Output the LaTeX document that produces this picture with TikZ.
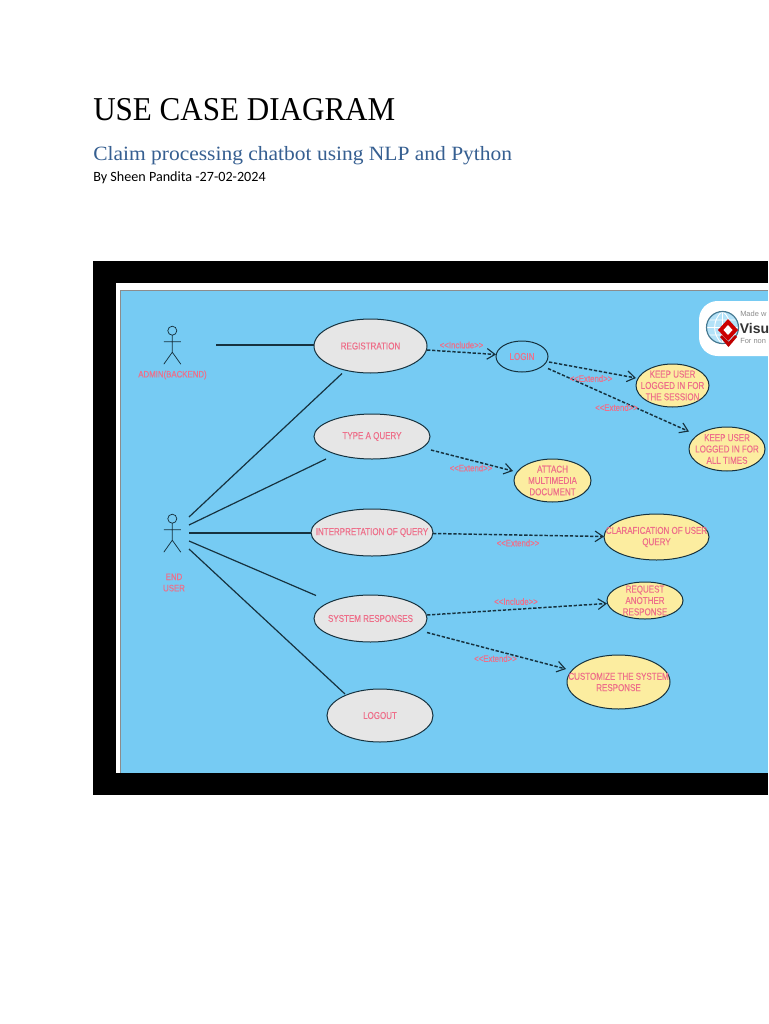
\documentclass[tikz,border=0pt]{standalone}
\usepackage{fontspec}
\setmainfont{Liberation Sans}
\newfontfamily\titlefont[FakeStretch=0.932]{Liberation Serif}
\newfontfamily\subfont[FakeStretch=1.06]{Liberation Serif}
\newfontfamily\bylinefont{Carlito}
\newfontfamily\ucfont[FakeStretch=0.80,FakeBold=0.35]{Liberation Sans}
\newfontfamily\lblfont[FakeStretch=0.84,FakeBold=0.35]{Liberation Sans}
\usetikzlibrary{shapes.geometric,arrows.meta}
\definecolor{skyfill}{HTML}{76CBF3}
\definecolor{grayuse}{HTML}{E6E6E6}
\definecolor{yellowuse}{HTML}{FCEDA0}
\definecolor{pinktext}{HTML}{EE6F8A}
\definecolor{linedark}{HTML}{16323F}
\definecolor{subtitleblue}{HTML}{365F91}
\tikzset{
  uc/.style={ellipse,draw=linedark,line width=0.75pt,inner sep=0pt},
  uctext/.style={text=pinktext,font=\ucfont\fontsize{7.5}{8.5}\selectfont,inner sep=0pt,align=center},
  lbl/.style={text=pinktext,font=\lblfont\fontsize{7}{8.5}\selectfont,inner sep=0pt,align=center},
  assoc/.style={draw=linedark,line width=0.9pt},
  dep/.style={draw=linedark,line width=1.1pt,dash pattern=on 2.5pt off 1.3pt,-{Straight Barb[length=6pt,width=8pt,line width=0.85pt]}},
  actorline/.style={draw=linedark,line width=0.55pt},
}
\newcommand{\useell}[7]{% name, x1,x2,y1,y2, fill, text
  \node[uc,minimum width=#3*0.75pt-#2*0.75pt,minimum height=#5*0.75pt-#4*0.75pt,fill=#6,label={[uctext]center:#7}] (#1) at ({(#2+#3)/2},{(#4+#5)/2}) {};}
\newcommand{\stick}[3]{% name, x, y of head centre
  \coordinate (#1) at (#2,#3);
  \draw[actorline] (#2,#3) circle[radius=4.5];
  \draw[actorline] (#2,#3+4.5) -- (#2,#3+21.5) (#2-8.5,#3+11) -- (#2+8.5,#3+11)
    (#2-8.5,#3+33.5) -- (#2,#3+21.5) -- (#2+8.5,#3+33.5);}
\begin{document}
\begin{tikzpicture}[x=0.75pt,y=-0.75pt]
\useasboundingbox (0,0) rectangle (768,1024);
\fill[white] (0,0) rectangle (768,1024);
\node[anchor=base west,inner sep=0pt,font=\titlefont\fontsize{25}{30}\selectfont] (title) at (93,120) {USE CASE DIAGRAM};
\node[anchor=base west,inner sep=0pt,text=subtitleblue,font=\subfont\fontsize{15.2}{18}\selectfont] (subtitle) at (93,160) {Claim processing chatbot using NLP and Python};
\node[anchor=base west,inner sep=0pt,font=\bylinefont\fontsize{10.6}{12}\selectfont] (byline) at (93,181) {By Sheen Pandita -27-02-2024};
% frame
\fill[black] (93,261) rectangle (768,795);
\fill[white] (116,283) rectangle (768,773);
\fill[black!45] (120,289.5) rectangle (768,773);
\fill[skyfill] (121,291) rectangle (768,773);
% logo
\begin{scope}
\clip (690,290) rectangle (768,365);
\fill[white,rounded corners=14] (699,301) rectangle (800,356);
\fill[white!45!skyfill] (722.5,327.5) circle[radius=16];
\begin{scope}
\clip (722.5,327.5) circle[radius=16];
\draw[white,line width=0.7pt] (706,320) -- (739,320) (706,327.5) -- (739,327.5) (706,335) -- (739,335)
  (722.5,311) -- (722.5,344)
  (722.5,311) .. controls (712,320) and (712,335) .. (722.5,344)
  (722.5,311) .. controls (733,320) and (733,335) .. (722.5,344);
\end{scope}
\draw[black!40!skyfill,line width=0.9pt] (722.5,327.5) circle[radius=16];
\fill[red!75!black] (720,337) -- (728.5,347) -- (737,337) -- (735,335) -- (728.5,342) -- (722,335) -- cycle;
\fill[red!80!black] (728,319) -- (718,330) -- (728,341) -- (738,330) -- cycle;
\fill[white] (728,325) -- (723.5,330) -- (728,335) -- (732.5,330) -- cycle;
\end{scope}
\node[anchor=west,inner sep=0pt,text=black!45,font=\fontsize{5.6}{7}\selectfont] (logoa) at (740,314) {Made w};
\node[anchor=west,inner sep=0pt,text=black!80,font=\bfseries\fontsize{10.5}{12}\selectfont] (logob) at (739.5,328) {Visu};
\node[anchor=west,inner sep=0pt,text=black!45,font=\fontsize{5.6}{7}\selectfont] (logoc) at (740,341) {For non};
% use cases
\useell{reg}{314}{427}{319}{373}{grayuse}{REGISTRATION}
\useell{query}{314}{430}{414}{459}{grayuse}{TYPE A QUERY}
\useell{interp}{311}{433}{509}{556}{grayuse}{INTERPRETATION OF QUERY}
\useell{sys}{314}{427}{595}{642}{grayuse}{SYSTEM RESPONSES}
\useell{logout}{327}{433}{689}{742}{grayuse}{LOGOUT}
\useell{login}{496}{548}{341}{372}{skyfill}{LOGIN}
\useell{keepa}{636}{709}{364}{407}{yellowuse}{KEEP USER\\LOGGED IN FOR\\THE SESSION}
\useell{keepb}{689}{765}{427}{471}{yellowuse}{KEEP USER\\LOGGED IN FOR\\ALL TIMES}
\useell{attach}{514}{591}{459}{502}{yellowuse}{ATTACH\\MULTIMEDIA\\DOCUMENT}
\useell{clar}{604}{709}{514}{560}{yellowuse}{CLARAFICATION OF USER\\QUERY}
\useell{req}{607}{683}{582}{619}{yellowuse}{REQUEST\\ANOTHER\\RESPONSE}
\useell{cust}{567}{670}{655}{709}{yellowuse}{CUSTOMIZE THE SYSTEM\\RESPONSE}
% actors
\stick{admin}{172.3}{330.7}
\stick{enduser}{172.3}{518.7}
\node[lbl] (adminlbl) at (172.5,375) {ADMIN(BACKEND)};
\node[lbl] (enduserlbl) at (174,582.5) {END\\USER};
% free ends
\coordinate (adminA) at (216,345);
\coordinate (uA) at (189,517);
\coordinate (uB) at (189,525);
\coordinate (uC) at (189,533);
\coordinate (uD) at (189,541);
\coordinate (uE) at (189,549);
\coordinate (regB) at (342,373.5);
\coordinate (queryB) at (326,459);
\coordinate (sysB) at (316,595.5);
\coordinate (logoutB) at (345,694);
\draw[assoc] (adminA) -- (reg.west |- adminA);
\draw[assoc] (uA) -- (regB);
\draw[assoc] (uB) -- (queryB);
\draw[assoc] (uC) -- (interp.west |- uC);
\draw[assoc] (uD) -- (sysB);
\draw[assoc] (uE) -- (logoutB);
% dependencies
\coordinate (d1s) at (427,350); \coordinate (d1e) at (496,354.5);
\coordinate (d2s) at (549,362); \coordinate (d2e) at (636,378);
\coordinate (d3s) at (548,368.5); \coordinate (d3e) at (689,431.5);
\coordinate (d4s) at (431,450); \coordinate (d4e) at (513,471);
\coordinate (d5s) at (433,533.5); \coordinate (d5e) at (604,536.5);
\coordinate (d6s) at (427,615); \coordinate (d6e) at (607,603.5);
\coordinate (d7s) at (427,632.5); \coordinate (d7e) at (566,669);
\draw[dep] (d1s) -- (d1e);
\draw[dep] (d2s) -- (d2e);
\draw[dep] (d3s) -- (d3e);
\draw[dep] (d4s) -- (d4e);
\draw[dep] (d5s) -- (d5e);
\draw[dep] (d6s) -- (d6e);
\draw[dep] (d7s) -- (d7e);
\node[lbl] (l1) at (461.5,345) {<{}<Include>{}>};
\node[lbl] (l2) at (591,378.5) {<{}<Extend>{}>};
\node[lbl] (l3) at (616.5,407.5) {<{}<Extend>{}>};
\node[lbl] (l4) at (471,468) {<{}<Extend>{}>};
\node[lbl] (l5) at (518,543) {<{}<Extend>{}>};
\node[lbl] (l6) at (516,601.5) {<{}<Include>{}>};
\node[lbl] (l7) at (495.5,658.5) {<{}<Extend>{}>};
\end{tikzpicture}
\end{document}
